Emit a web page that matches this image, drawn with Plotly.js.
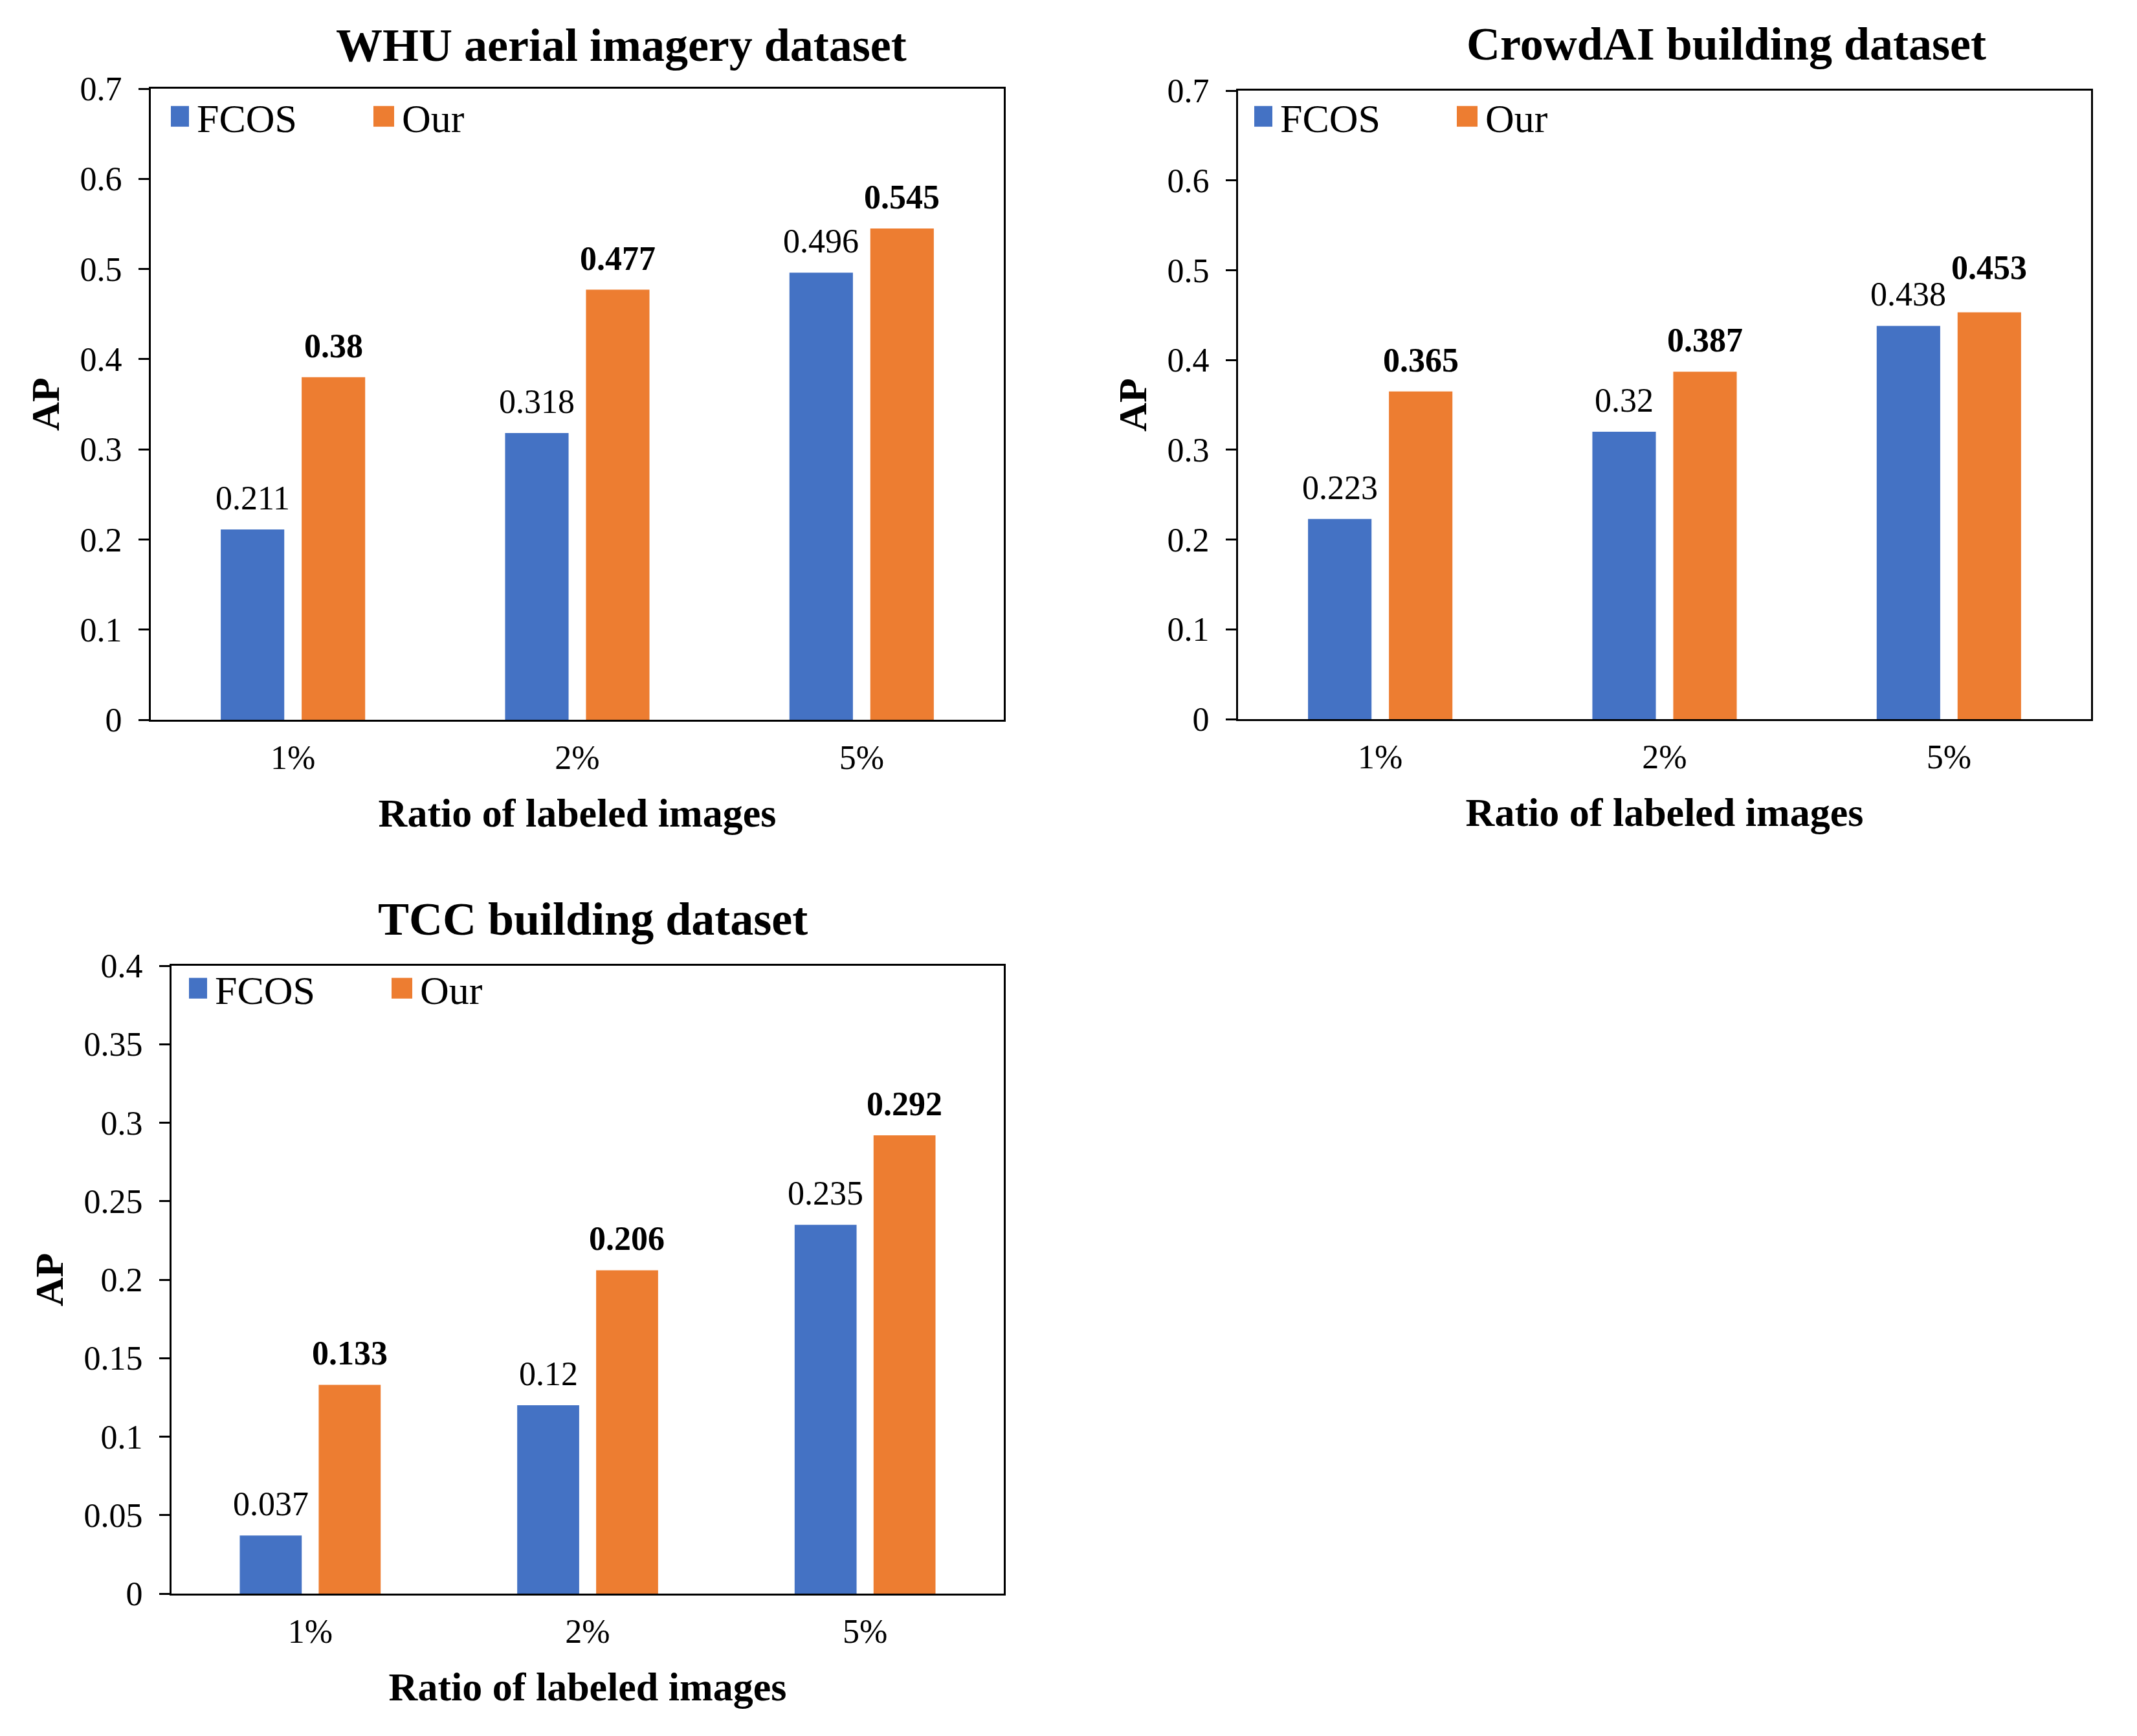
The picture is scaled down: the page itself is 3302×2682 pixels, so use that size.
<!DOCTYPE html>
<html><head><meta charset="utf-8">
<script src="https://cdn.plot.ly/plotly-3.0.1.min.js"></script>
<style>html,body{margin:0;padding:0;background:#fff;} #chart{width:3302px;height:2682px;}</style>
</head><body><div id="chart"></div>
<script>
// ---------- data ----------
const categories = ['1%', '2%', '5%'];
const seriesNames = ['FCOS', 'Our'];
const whuFCOS = [0.211, 0.318, 0.496];
const whuOur = [0.38, 0.477, 0.545];
const crowdFCOS = [0.223, 0.32, 0.438];
const crowdOur = [0.365, 0.387, 0.453];
const tccFCOS = [0.037, 0.12, 0.235];
const tccOur = [0.133, 0.206, 0.292];
const chartTitles = ['WHU aerial imagery dataset', 'CrowdAI building dataset', 'TCC building dataset'];
const xAxisTitle = 'Ratio of labeled images';
const yAxisTitle = 'AP';
const yTickVals07 = [0, 0.1, 0.2, 0.3, 0.4, 0.5, 0.6, 0.7];
const yTickText07 = ['0', '0.1', '0.2', '0.3', '0.4', '0.5', '0.6', '0.7'];
const yTickVals04 = [0, 0.05, 0.1, 0.15, 0.2, 0.25, 0.3, 0.35, 0.4];
const yTickText04 = ['0', '0.05', '0.1', '0.15', '0.2', '0.25', '0.3', '0.35', '0.4'];
const yMax = [0.7, 0.7, 0.4];

// ---------- styling / layout ----------
const colors = ['#4472C4', '#ED7D31'];
const FONT = 'Liberation Serif, Times New Roman, serif';
const W = 3302, H = 2682;
const px = v => v / W, py = v => 1 - v / H;
const boxes = [
  {x0: 233, x1: 1551, y0: 137, y1: 1112, tx: 960, ty: 70, lx: 264, ly: 180},
  {x0: 1913, x1: 3231, y0: 140, y1: 1111, tx: 2667, ty: 68, lx: 1938, ly: 180},
  {x0: 265, x1: 1551, y0: 1492, y1: 2462, tx: 916, ty: 1420, lx: 292, ly: 1527}
];
const BARGAP = 0.431, BARGROUPGAP = 0.215;
const LABEL_SHIFT = 18;
// extra lift for a label that the original chart nudged up to avoid its neighbour
const extraLabelLift = {'1-1-2': 21};
const seriesData = [[whuFCOS, whuOur], [crowdFCOS, crowdOur], [tccFCOS, tccOur]];
const tickSets = [[yTickVals07, yTickText07], [yTickVals07, yTickText07], [yTickVals04, yTickText04]];

const traces = [];
const annotations = [];
const layout = {
  width: W, height: H,
  margin: {l: 0, r: 0, t: 0, b: 0},
  paper_bgcolor: '#fff', plot_bgcolor: '#fff',
  font: {family: FONT, color: '#000', size: 52},
  barmode: 'group', bargap: BARGAP, bargroupgap: BARGROUPGAP,
  annotations: annotations
};

boxes.forEach((b, i) => {
  const n = i === 0 ? '' : String(i + 1);
  const legName = 'legend' + n;
  seriesData[i].forEach((vals, s) => {
    traces.push({
      type: 'bar', x: categories, y: vals, name: seriesNames[s],
      marker: {color: colors[s], line: {width: 0}},
      xaxis: 'x' + n, yaxis: 'y' + n, legend: legName,
      hoverinfo: 'skip'
    });
    const off = (1 - BARGAP) / 4;
    vals.forEach((v, j) => {
      annotations.push({
        xref: 'x' + n, yref: 'y' + n,
        x: j + (s === 0 ? -off : off), y: v,
        text: String(v), showarrow: false,
        xanchor: 'center', yanchor: 'bottom',
        yshift: LABEL_SHIFT + (extraLabelLift[i + '-' + s + '-' + j] || 0),
        font: {family: FONT, size: 52, color: '#000', weight: s === 1 ? 'bold' : 'normal'}
      });
    });
  });
  annotations.push({
    xref: 'paper', yref: 'paper', x: px(b.tx), y: py(b.ty),
    xanchor: 'center', yanchor: 'middle', showarrow: false,
    text: chartTitles[i],
    font: {family: FONT, size: 72, color: '#000', weight: 'bold'}
  });
  layout['xaxis' + n] = {
    domain: [px(b.x0), px(b.x1)], anchor: 'y' + n, type: 'category',
    categoryorder: 'array', categoryarray: categories,
    showline: true, mirror: true, linecolor: '#000', linewidth: 3,
    ticks: '', showgrid: false, zeroline: false, fixedrange: true,
    tickfont: {family: FONT, size: 52, color: '#000'}, ticklabelstandoff: 11,
    title: {text: xAxisTitle, standoff: 36, font: {family: FONT, size: 62, color: '#000', weight: 'bold'}}
  };
  layout['yaxis' + n] = {
    domain: [py(b.y1), py(b.y0)], anchor: 'x' + n,
    range: [0, yMax[i]], tickmode: 'array', tickvals: tickSets[i][0], ticktext: tickSets[i][1],
    showline: true, mirror: true, linecolor: '#000', linewidth: 3,
    ticks: 'outside', ticklen: 16, tickwidth: 3, tickcolor: '#000',
    showgrid: false, zeroline: false, fixedrange: true,
    tickfont: {family: FONT, size: 52, color: '#000'}, ticklabelstandoff: 15,
    title: {text: yAxisTitle, standoff: 12, font: {family: FONT, size: 62, color: '#000', weight: 'bold'}}
  };
  layout[legName] = {
    orientation: 'h', x: px(b.lx), y: py(b.ly), xanchor: 'left', yanchor: 'middle',
    xref: 'paper', yref: 'paper', bgcolor: 'rgba(0,0,0,0)', borderwidth: 0,
    font: {family: FONT, size: 62, color: '#000'},
    entrywidth: 272, entrywidthmode: 'pixels', traceorder: 'normal'
  };
});

// enlarge the legend swatches (all legends) to match the reference's square markers
function enlargeLegendSwatches() {
  document.querySelectorAll('.legendpoints path').forEach(p => {
    if (p.dataset.origTransform === undefined) {
      p.dataset.origTransform = p.getAttribute('transform') || '';
    }
    p.setAttribute('transform', p.dataset.origTransform + ' translate(-8,0) scale(2.667)');
  });
}
const gd = document.getElementById('chart');
Plotly.newPlot(gd, traces, layout, {displayModeBar: false, staticPlot: true}).then(() => {
  enlargeLegendSwatches();
  gd.on('plotly_afterplot', enlargeLegendSwatches);
  setTimeout(enlargeLegendSwatches, 50);
  setTimeout(enlargeLegendSwatches, 300);
});
</script>
</body></html>
